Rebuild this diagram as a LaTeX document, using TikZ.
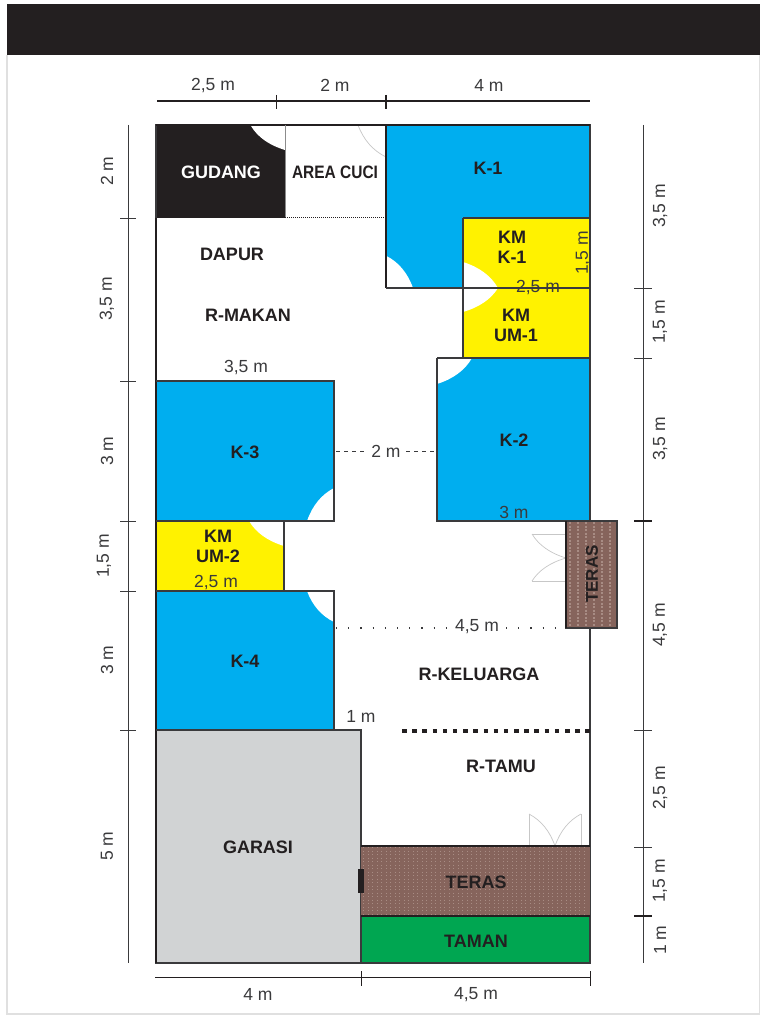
\documentclass[tikz,border=0pt]{standalone}
\usepackage{fontspec}
\setmainfont{Liberation Sans}
\definecolor{kamarblue}{HTML}{00AEEF}
\definecolor{kmyellow}{HTML}{FFF200}
\definecolor{garasigray}{HTML}{D1D3D4}
\definecolor{tamangreen}{HTML}{00A651}
\definecolor{terasbrown}{HTML}{86645C}
\definecolor{terasdot}{HTML}{A88C84}
\definecolor{inkblack}{HTML}{231F20}
\definecolor{dimgray}{HTML}{3A3A3C}
\tikzset{
  ruang/.style={font=\fontsize{18}{21}\selectfont\bfseries,text=inkblack,align=center,inner sep=0pt},
  ukuran/.style={font=\fontsize{17.5}{20}\selectfont,text=dimgray,inner sep=0pt},
  dinding/.style={draw=dimgray,line width=1.2pt},
  garisukur/.style={draw=dimgray,line width=1pt},
  pintutipis/.style={draw=black!22,line width=0.7pt},
}
% pintu: engsel (cx,cy), ujung (ax,cy) dan (cx,by)
\newcommand{\hitungpintu}[4]{%
  \pgfmathsetmacro{\pax}{#1+0.8*(#3-#1)}%
  \pgfmathsetmacro{\pay}{#2+0.467*(#4-#2)}%
  \pgfmathsetmacro{\pbx}{#1+0.467*(#3-#1)}%
  \pgfmathsetmacro{\pby}{#2+0.8*(#4-#2)}}
\newcommand{\daunpintu}[4]{%
  \hitungpintu{#1}{#2}{#3}{#4}%
  \fill[white] (#1,#2) -- (#3,#2) .. controls (\pax,\pay) and (\pbx,\pby) .. (#1,#4) -- cycle;}
\newcommand{\busurpintu}[4]{%
  \hitungpintu{#1}{#2}{#3}{#4}%
  \draw[pintutipis] (#3,#2) .. controls (\pax,\pay) and (\pbx,\pby) .. (#1,#4);}
\begin{document}
\begin{tikzpicture}[x=1pt,y=-1pt]
  \useasboundingbox (0,0) rectangle (768,1024);
  \fill[white] (0,0) rectangle (768,1024);
  \draw[black!12,line width=1.2pt] (7,55) -- (7,1014) -- (759.5,1014) -- (759.5,55);
  \fill[inkblack] (6.5,4) rectangle (759.5,55);

  % ruangan
  \fill[inkblack] (156,125) rectangle (285,218);
  \fill[kamarblue] (386,125) rectangle (590,288);
  \fill[kmyellow] (463,218) rectangle (590,358);
  \fill[kamarblue] (437,358) rectangle (590,521);
  \fill[kamarblue] (156,381) rectangle (334,521);
  \fill[kmyellow] (156,521) rectangle (284,591);
  \fill[kamarblue] (156,591) rectangle (334,730);
  \fill[garasigray] (156,730) rectangle (361,963);
  \fill[tamangreen] (361,916) rectangle (590,963);

  % pintu
  \daunpintu{285}{126}{251}{150}
  \daunpintu{386.5}{288}{413}{256}
  \daunpintu{463}{288}{498}{262}
  \daunpintu{463}{288}{498}{312}
  \daunpintu{437}{358}{472}{384}
  \daunpintu{334}{521}{307}{488}
  \daunpintu{284}{521}{249}{546}
  \daunpintu{334}{591}{307}{622}
  \busurpintu{386}{125}{358}{157}
  \busurpintu{566}{534}{532}{558}
  \busurpintu{566}{581}{532}{558}
  \busurpintu{529}{846}{555}{814}
  \busurpintu{581}{846}{555}{814}
  \draw[pintutipis] (566,534) -- (532,534) (566,581) -- (532,581);
  \draw[pintutipis] (529,846) -- (529,814) (581,846) -- (581,814);

  % dinding
  \draw[dinding] (156,125) rectangle (590,963);
  \draw[inkblack,line width=1.8pt] (156,125) -- (590,125);
  \draw[inkblack,line width=1.8pt] (156,218) -- (156,963);
  \draw[black!45,line width=0.8pt] (285,125) -- (285,218);
  \draw[inkblack,line width=1.6pt] (386,125) -- (386,288);
  \draw[dinding] (386,288) -- (590,288);
  \draw[dinding] (463,218) -- (590,218) (463,218) -- (463,358);
  \draw[dinding] (437,358) -- (590,358) (437,358) -- (437,521) -- (590,521);
  \draw[dinding] (156,381) -- (334,381) -- (334,521) -- (156,521);
  \draw[dinding] (284,521) -- (284,591);
  \draw[dinding] (156,591) -- (334,591) -- (334,730);
  \draw[dinding] (156,730) -- (361,730) -- (361,963);

  % teras
  \fill[terasbrown] (361,846) rectangle (590,916);
  \fill[terasbrown] (566,521) rectangle (617,628);
  \foreach \xx in {363.5,368,...,588}
    \draw[terasdot,line width=1pt,dash pattern=on 1pt off 2.5pt] (\xx,847) -- (\xx,915);
  \foreach \xx in {570,578,...,614}
    \draw[terasdot,line width=1.2pt,dash pattern=on 2pt off 1.5pt] (\xx,522) -- (\xx,627);
  \draw[inkblack,line width=1.4pt] (361,846) -- (590,846);
  \draw[inkblack,line width=1.4pt] (361,916) -- (590,916);
  \draw[dinding] (566,521) rectangle (617,628);
  \draw[inkblack,line width=1.6pt] (566,521) -- (566,628);
  \fill[inkblack] (357.5,869) rectangle (364,893);

  % batas
  \draw[inkblack,line width=1pt,dash pattern=on 1pt off 1pt] (285,218) -- (386,218);
  \draw[inkblack,line width=4pt,dash pattern=on 4.5pt off 5.69pt] (402,730.5) -- (590,730.5);
  \draw[dimgray,line width=1pt,dash pattern=on 4pt off 4pt] (336,451) -- (367,451);
  \draw[dimgray,line width=1pt,dash pattern=on 4pt off 4pt] (406,451) -- (436,451);
  \draw[dimgray,line width=1.2pt,dash pattern=on 1.2pt off 11pt] (336,628) -- (448,628);
  \draw[dimgray,line width=1.2pt,dash pattern=on 1.2pt off 11pt] (506,628) -- (566,628);

  % garis ukur
  \draw[inkblack,line width=1.2pt] (157,101) -- (590,101);
  \draw[inkblack,line width=0.7pt] (276,95) -- (276,109);
  \draw[inkblack,line width=1.4pt] (386,95) -- (386,109);
  \draw[garisukur] (128,125) -- (128,963);
  \foreach \yy in {218,381,521,591,730}
    \draw[garisukur,line width=0.7pt] (120,\yy) -- (136,\yy);
  \draw[garisukur] (643,125) -- (643,963);
  \foreach \yy in {288,358,730,847}
    \draw[garisukur,line width=0.7pt] (634,\yy) -- (652,\yy);
  \foreach \yy in {521,916}
    \draw[inkblack,line width=1.4pt] (634,\yy) -- (652,\yy);
  \draw[inkblack,line width=1.2pt] (155,977.5) -- (590,977.5);
  \foreach \xx in {361,590}
    \draw[inkblack,line width=0.7pt] (\xx,971) -- (\xx,986);

  % nama ruang
  \node[ruang,text=white] (gudang) at (221,172) {GUDANG};
  \node[ruang,xscale=0.86] (areacuci) at (335,172) {AREA CUCI};
  \node[ruang] (kamar1) at (488,168) {K-1};
  \node[ruang] (dapur) at (232,254) {DAPUR};
  \node[ruang] (rmakan) at (248,315) {R-MAKAN};
  \node[ruang] (kmk1) at (512,247) {KM\\[-1pt]K-1};
  \node[ruang] (kmum1) at (516,325) {KM\\[-1pt]UM-1};
  \node[ruang] (kamar2) at (514,440) {K-2};
  \node[ruang] (kamar3) at (245,452) {K-3};
  \node[ruang] (kmum2) at (218,546) {KM\\[-1pt]UM-2};
  \node[ruang] (kamar4) at (245,661) {K-4};
  \node[ruang,rotate=90,font=\fontsize{17}{20}\selectfont\bfseries] (terassamping) at (592,574) {TERAS};
  \node[ruang] (rkeluarga) at (479,674) {R-KELUARGA};
  \node[ruang] (rtamu) at (501,766) {R-TAMU};
  \node[ruang] (garasi) at (258,847) {GARASI};
  \node[ruang] (teras) at (476,882) {TERAS};
  \node[ruang] (taman) at (476,941) {TAMAN};

  % teks ukuran
  \node[ukuran] (atas1) at (213,86) {2,5 m};
  \node[ukuran] (atas2) at (335,85) {2 m};
  \node[ukuran] (atas3) at (489,85) {4 m};
  \node[ukuran,rotate=90] (kiri1) at (107,171) {2 m};
  \node[ukuran,rotate=90] (kiri2) at (107,299) {3,5 m};
  \node[ukuran,rotate=90] (kiri3) at (107,451) {3 m};
  \node[ukuran,rotate=90] (kiri4) at (104,556) {1,5 m};
  \node[ukuran,rotate=90] (kiri5) at (107,660) {3 m};
  \node[ukuran,rotate=90] (kiri6) at (107,846) {5 m};
  \node[ukuran,rotate=90] (kanan1) at (660,206) {3,5 m};
  \node[ukuran,rotate=90] (kanan2) at (660,322) {1,5 m};
  \node[ukuran,rotate=90] (kanan3) at (660,439) {3,5 m};
  \node[ukuran,rotate=90] (kanan4) at (660,625) {4,5 m};
  \node[ukuran,rotate=90] (kanan5) at (660,788) {2,5 m};
  \node[ukuran,rotate=90] (kanan6) at (660,881) {1,5 m};
  \node[ukuran,rotate=90] (kanan7) at (660,940) {1 m};
  \node[ukuran] (bawah1) at (258,994) {4 m};
  \node[ukuran] (bawah2) at (476,995) {4,5 m};
  \node[ukuran,rotate=90] (dalam1) at (583,253) {1,5 m};
  \node[ukuran] (dalam2) at (538,288) {2,5 m};
  \node[ukuran] (dalam3) at (246,368) {3,5 m};
  \node[ukuran] (dalam4) at (386,451) {2 m};
  \node[ukuran] (dalam5) at (514,512) {3 m};
  \node[ukuran] (dalam6) at (216,583) {2,5 m};
  \node[ukuran] (dalam7) at (477,627) {4,5 m};
  \node[ukuran] (dalam8) at (361,716) {1 m};
\end{tikzpicture}
\end{document}
